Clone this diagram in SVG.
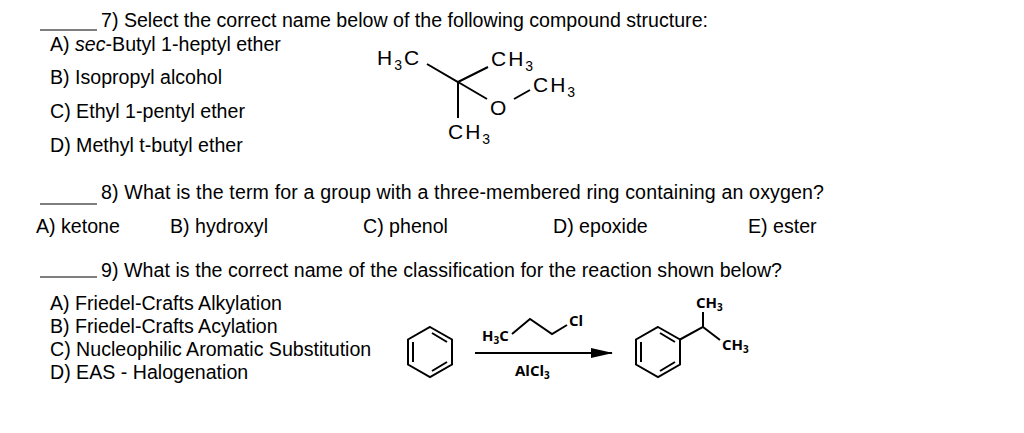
<svg xmlns="http://www.w3.org/2000/svg" width="1024" height="433" viewBox="0 0 1024 433">
<style>
text{font-family:"Liberation Sans",Arial,sans-serif;font-size:19.6px;fill:#000}
.b{stroke:#000;stroke-width:2;fill:none}
.m{font-size:21px;letter-spacing:2px}
.k{font-family:"Open Sans","Liberation Sans",sans-serif;font-size:15px;font-weight:bold}
.l{stroke:#000;stroke-width:1.2}
</style>
<defs><marker id="ah" markerWidth="22" markerHeight="10" refX="21" refY="5" orient="auto" markerUnits="userSpaceOnUse"><path d="M0,0 L22,5 L0,10z" fill="#000"/></marker></defs>
<rect width="1024" height="433" fill="#fff"/>
<g id="q7">
<line class="l" x1="40" y1="30" x2="97" y2="30"/>
<text x="101" y="27" textLength="607">7) Select the correct name below of the following compound structure:</text>
<text x="50" y="51">A) <tspan font-style="italic">sec</tspan>-Butyl 1-heptyl ether</text>
<text x="50" y="84">B) Isopropyl alcohol</text>
<text x="50" y="118">C) Ethyl 1-pentyl ether</text>
<text x="50" y="152">D) Methyl t-butyl ether</text>
</g>
<g id="mol1">
<text class="m" x="377" y="65" letter-spacing="0">H<tspan font-size="14" dy="5">3</tspan><tspan dy="-5">C</tspan></text>
<text class="m" x="491" y="66">CH<tspan font-size="14" dy="5">3</tspan></text>
<text class="m" x="533" y="92">CH<tspan font-size="14" dy="5">3</tspan></text>
<text class="m" x="448" y="139">CH<tspan font-size="14" dy="5">3</tspan></text>
<text class="m" x="490" y="115" letter-spacing="0">O</text>
<path class="b" d="M427,64 L458,82 L488,67 M458,82 L458,118 M458,82 L487,99 M514,99 L530,90"/>
</g>
<g id="q8">
<line class="l" x1="40" y1="204" x2="97" y2="204"/>
<text x="101" y="199" textLength="723">8) What is the term for a group with a three-membered ring containing an oxygen?</text>
<text x="36" y="233">A) ketone</text>
<text x="170" y="233">B) hydroxyl</text>
<text x="363" y="233">C) phenol</text>
<text x="553" y="233">D) epoxide</text>
<text x="748" y="233">E) ester</text>
</g>
<g id="q9">
<line class="l" x1="40" y1="277" x2="97" y2="277"/>
<text x="101" y="277" textLength="681">9) What is the correct name of the classification for the reaction shown below?</text>
<text x="50" y="310">A) Friedel-Crafts Alkylation</text>
<text x="50" y="333">B) Friedel-Crafts Acylation</text>
<text x="50" y="356">C) Nucleophilic Aromatic Substitution</text>
<text x="50" y="379">D) EAS - Halogenation</text>
</g>
<g id="benzene">
<path class="b" d="M430,327 L452,339.5 L452,364.5 L430,377 L408,364.5 L408,339.5Z M413,342 L413,362 M432,333 L447,342 M447,362 L432,371"/>
</g>
<g id="reagent">
<text class="k" x="482" y="341">H<tspan font-size="10" dy="3">3</tspan><tspan dy="-3">C</tspan></text>
<path class="b" d="M512,334 L530,319 L552,334 L567,325"/>
<text class="k" x="569" y="326">Cl</text>
<text class="k" x="515" y="376">AlCl<tspan font-size="10" dy="3">3</tspan></text>
</g>
<g id="product">
<path class="b" d="M658,327 L680,339.5 L680,364.5 L658,377 L636,364.5 L636,339.5Z M641,342 L641,362 M660,333 L675,342 M675,362 L660,371 M680,339.5 L703,327 L703,312 M703,327 L720,340"/>
<text class="k" x="696" y="308">CH<tspan font-size="10" dy="3">3</tspan></text>
<text class="k" x="722" y="350">CH<tspan font-size="10" dy="3">3</tspan></text>
</g>
<g id="connectors">
<line class="b" x1="475" y1="353" x2="612" y2="353" stroke-width="2.5" marker-end="url(#ah)"/>
</g>
</svg>
